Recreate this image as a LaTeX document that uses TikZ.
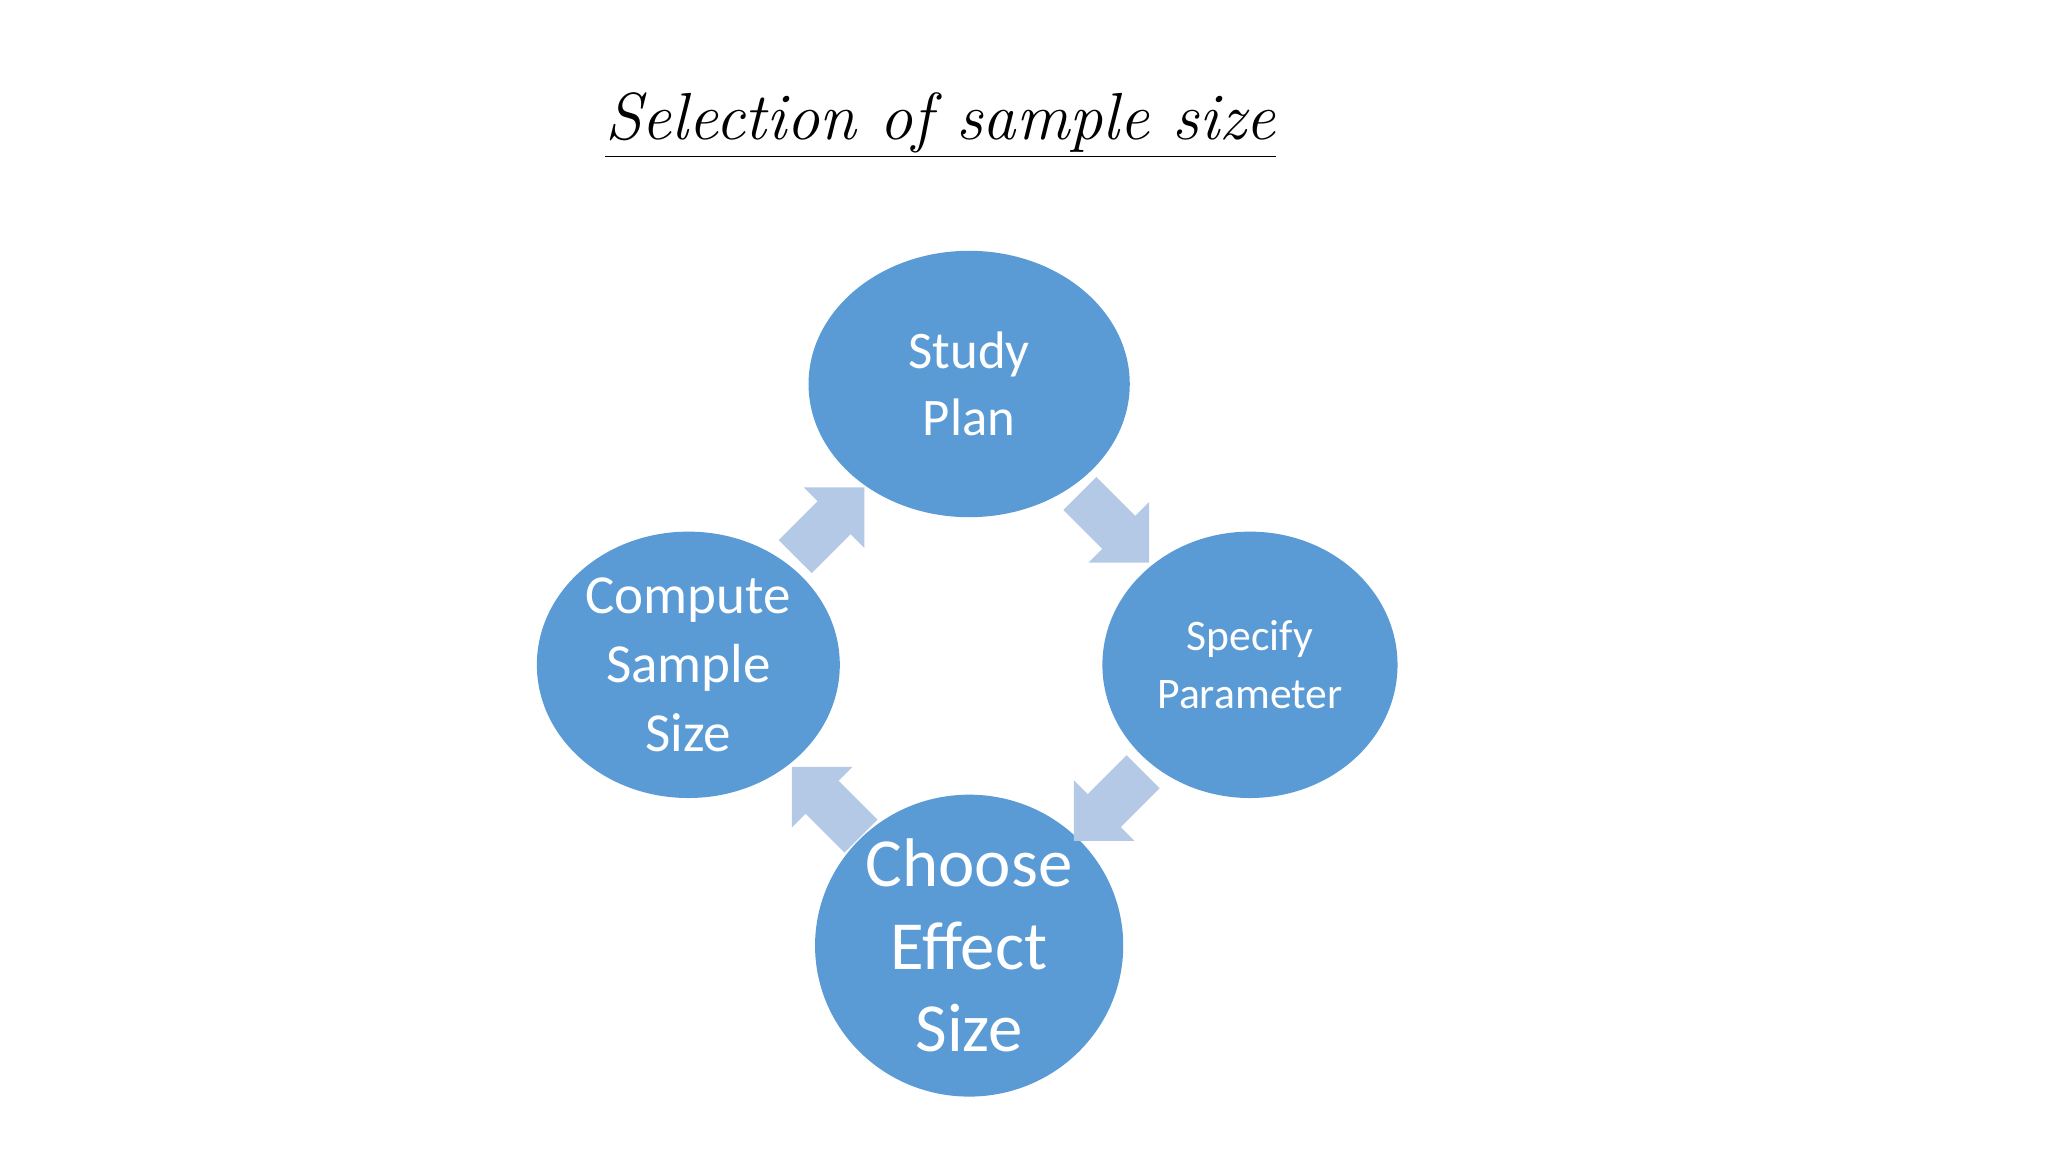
\documentclass[tikz,border=0pt]{standalone}
\usepackage{fontspec}
\setmainfont{Carlito}
\newfontfamily\titlefont{Latin Modern Roman}
\usetikzlibrary{shapes.geometric,shapes.arrows}
\begin{document}
\begin{tikzpicture}[x=0.02cm,y=-0.02cm,
  bub/.style={ellipse,fill=bubblue,text=white,inner sep=0pt,align=center,minimum height=4.08cm},
  blk/.style={single arrow,fill=arrblue,inner sep=0pt,minimum height=1.5cm,minimum width=1.3cm,single arrow head extend=0.3cm}]
\definecolor{bubblue}{HTML}{5B9BD5}
\definecolor{arrblue}{HTML}{B4C9E6}
\useasboundingbox (0,0) rectangle (1568,882);
\node[font=\titlefont\itshape\fontsize{29}{34}\selectfont] (title) at (720,96) {\underline{Selection of sample size}};
\node[bub,minimum width=4.92cm,font=\fontsize{23}{29}\selectfont] (sp) at (742,294) {Study\\Plan};
\node[bub,minimum width=4.52cm,font=\fontsize{19}{25}\selectfont] (par) at (957,509) {Specify\\Parameter};
\node[bub,minimum width=4.72cm,font=\fontsize{30}{36}\selectfont] (ces) at (742,724) {Choose\\Effect\\Size};
\node[bub,minimum width=4.64cm,font=\fontsize{24}{30}\selectfont] (css) at (527,509) {Compute\\Sample\\Size};
\node[blk,rotate=-45] (a1) at (847,398) {\rule{0pt}{0.7cm}};
\node[blk,rotate=-135] (a2) at (855,611) {\rule{0pt}{0.7cm}};
\node[blk,rotate=135] (a3) at (639,620) {\rule{0pt}{0.7cm}};
\node[blk,rotate=45] (a4) at (629,406) {\rule{0pt}{0.7cm}};
\end{tikzpicture}
\end{document}
